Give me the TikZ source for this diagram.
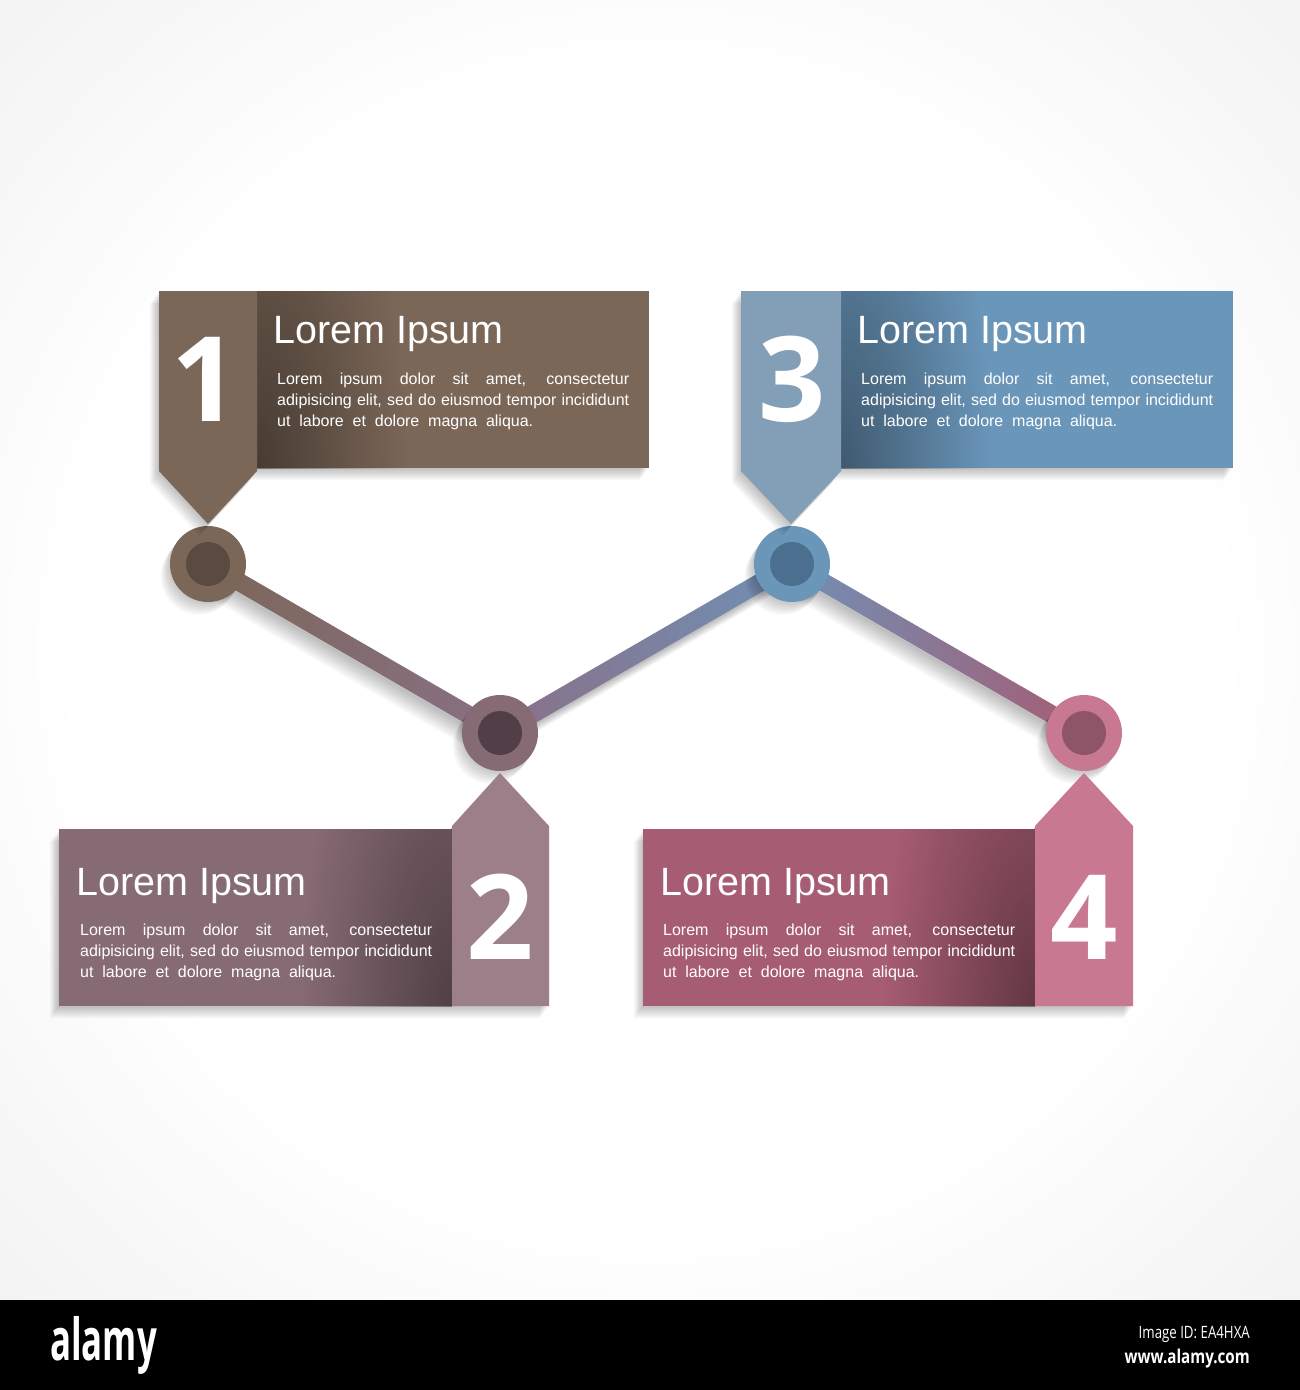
\documentclass[tikz,border=0pt]{standalone}
\usepackage{fontspec}
\usepackage{graphicx}
\setmainfont{Liberation Sans}
\newfontfamily\numfont{Open Sans}
\usetikzlibrary{calc,fadings}
\definecolor{brA}{HTML}{7B6758}
\definecolor{brD}{HTML}{5A4A40}
\definecolor{blA}{HTML}{6A96BA}
\definecolor{blT}{HTML}{839FB8}
\definecolor{blD}{HTML}{4B6F8F}
\definecolor{mvA}{HTML}{866A74}
\definecolor{mvT}{HTML}{9C7F88}
\definecolor{mvD}{HTML}{523E46}
\definecolor{pkA}{HTML}{A65C72}
\definecolor{pkT}{HTML}{C87890}
\definecolor{pkD}{HTML}{8E5467}
\definecolor{lnB}{HTML}{8A7086}
\definecolor{lnC}{HTML}{7090B6}
\pgfdeclareradialshading{bgshade}{\pgfpoint{0bp}{0bp}}{color(0bp)=(white); color(22bp)=(white); color(50bp)=(black!10)}
\tikzfading[name=cornerfade, inner color=transparent!0, outer color=transparent!100]
\pgfdeclarelayer{base}
\pgfdeclarelayer{lines}
\pgfsetlayers{base,lines,main}
\tikzset{
  title/.style={font=\fontsize{39.5}{40}\selectfont, text=white, inner sep=0, anchor=base west},
  body/.style={font=\fontsize{16}{21}\selectfont, text=white, inner sep=0, anchor=base west},
  num/.style={font=\numfont\bfseries\fontsize{118}{118}\selectfont, text=white, inner sep=0, anchor=base},
  ring/.style={circle, inner sep=0, minimum size=76pt},
  shad/.style={black, opacity=0.03},
}
\newcommand\lipbody{\vtop{\baselineskip=21pt
  \hbox to 352pt{Lorem ipsum dolor sit amet, consectetur}
  \hbox to 352pt{adipisicing elit, sed do eiusmod tempor incididunt}
  \hbox to 256pt{ut labore et dolore magna aliqua.}}}
\begin{document}
\begin{tikzpicture}[x=1pt,y=-1pt]
\useasboundingbox (0,0) rectangle (1300,1390);
\begin{pgfonlayer}{base}
\shade[shading=bgshade] (0,0) rectangle (1300,1300);
\fill[black] (0,1300) rectangle (1300,1390);
\end{pgfonlayer}

% circles
\foreach \p in {(208,564),(500,733),(792,564),(1084,733)}{
  \foreach \i in {1,...,7}{\fill[shad] \p ++(-1.3*\i,1.8*\i) circle (38pt);}
}
\node[ring, fill=brA] (c1) at (208,564) {};
\node[ring, fill=mvA] (c2) at (500,733) {};
\node[ring, fill=blA] (c3) at (792,564) {};
\node[ring, fill=pkT] (c4) at (1084,733) {};
\fill[brD] (c1.center) circle (22pt);
\fill[mvD] (c2.center) circle (22pt);
\fill[blD] (c3.center) circle (22pt);
\fill[pkD] (c4.center) circle (22pt);

% connectors
\begin{pgfonlayer}{lines}
\foreach \i in {1,...,8}{
  \draw[black, opacity=0.035, line width=18pt, line join=round]
    ($(c1.center)+(-1.4*\i,2*\i)$) -- ($(c2.center)+(-1.4*\i,2*\i)$)
    -- ($(c3.center)+(-1.4*\i,2*\i)$) -- ($(c4.center)+(-1.4*\i,2*\i)$);
}
\shade[left color=brA, right color=lnB]
  ($(c1.center)!9pt!90:(c2.center)$) -- ($(c2.center)!9pt!-90:(c1.center)$)
  -- ($(c2.center)!9pt!90:(c1.center)$) -- ($(c1.center)!9pt!-90:(c2.center)$) -- cycle;
\shade[left color=lnB, right color=lnC]
  ($(c2.center)!9pt!90:(c3.center)$) -- ($(c3.center)!9pt!-90:(c2.center)$)
  -- ($(c3.center)!9pt!90:(c2.center)$) -- ($(c2.center)!9pt!-90:(c3.center)$) -- cycle;
\shade[left color=lnC, right color=pkA]
  ($(c3.center)!9pt!90:(c4.center)$) -- ($(c4.center)!9pt!-90:(c3.center)$)
  -- ($(c4.center)!9pt!90:(c3.center)$) -- ($(c3.center)!9pt!-90:(c4.center)$) -- cycle;
\end{pgfonlayer}

% box shadows
\foreach \i in {1,...,8}{
  \fill[shad, shift={(-1.1*\i,1.5*\i)}] (159,291) -- (649,291) -- (649,468) -- (257,468) -- (257,471) -- (208,524) -- (159,471) -- cycle;
  \fill[shad, shift={(-1.1*\i,1.5*\i)}] (741,291) -- (1233,291) -- (1233,468) -- (841,468) -- (841,471) -- (791,524) -- (741,471) -- cycle;
  \fill[shad, shift={(-1.1*\i,1.5*\i)}] (59,829) -- (452,829) -- (452,826) -- (500,773) -- (549,826) -- (549,1006) -- (59,1006) -- cycle;
  \fill[shad, shift={(-1.1*\i,1.5*\i)}] (643,829) -- (1035,829) -- (1035,826) -- (1084,773) -- (1133,826) -- (1133,1006) -- (643,1006) -- cycle;
}

% box 1
\fill[brA] (257,291) rectangle (649,468);
\begin{scope}
  \clip (257,291) rectangle (649,468);
  \fill[black, opacity=0.42, path fading=cornerfade] (257,468) ellipse (150pt and 400pt);
\end{scope}
\fill[brA] (159,291) -- (257,291) -- (257,471) -- (208,524) -- (159,471) -- cycle;
% box 3
\fill[blA] (841,291) rectangle (1233,468);
\begin{scope}
  \clip (841,291) rectangle (1233,468);
  \fill[black, opacity=0.4, path fading=cornerfade] (841,468) ellipse (150pt and 400pt);
\end{scope}
\fill[blT] (741,291) -- (841,291) -- (841,471) -- (791,524) -- (741,471) -- cycle;
% box 2
\fill[mvA] (59,829) rectangle (452,1006);
\begin{scope}
  \clip (59,829) rectangle (452,1006);
  \fill[black, opacity=0.4, path fading=cornerfade] (452,1006) ellipse (150pt and 400pt);
\end{scope}
\fill[mvT] (452,826) -- (500,773) -- (549,826) -- (549,1006) -- (452,1006) -- cycle;
% box 4
\fill[pkA] (643,829) rectangle (1035,1006);
\begin{scope}
  \clip (643,829) rectangle (1035,1006);
  \fill[black, opacity=0.4, path fading=cornerfade] (1035,1006) ellipse (150pt and 400pt);
\end{scope}
\fill[pkT] (1035,826) -- (1084,773) -- (1133,826) -- (1133,1006) -- (1035,1006) -- cycle;

% texts
\node[num] (n1) at (205,421) {1};
\node[title] (t1) at (273,343) {Lorem Ipsum};
\node[body] (b1) at (277,384) {\lipbody};
\node[num] (n3) at (792,421) {3};
\node[title] (t3) at (857,343) {Lorem Ipsum};
\node[body] (b3) at (861,384) {\lipbody};
\node[num] (n2) at (500,959) {2};
\node[title] (t2) at (76,895) {Lorem Ipsum};
\node[body] (b2) at (80,935) {\lipbody};
\node[num] (n4) at (1084,959) {4};
\node[title] (t4) at (660,895) {Lorem Ipsum};
\node[body] (b4) at (663,935) {\lipbody};

% footer
\node[font=\numfont\bfseries\fontsize{58}{58}\selectfont, text=white, anchor=base west, inner sep=0] (logo) at (50,1360) {\scalebox{0.6}[1]{alamy}};
\node[font=\numfont\fontsize{17}{17}\selectfont, text=white, anchor=base east, inner sep=0] (imgid) at (1250,1338) {\scalebox{0.78}[1]{Image ID: EA4HXA}};
\node[font=\numfont\bfseries\fontsize{19}{19}\selectfont, text=white, anchor=base east, inner sep=0] (url) at (1250,1363) {\scalebox{0.8}[1]{www.alamy.com}};
\end{tikzpicture}
\end{document}
